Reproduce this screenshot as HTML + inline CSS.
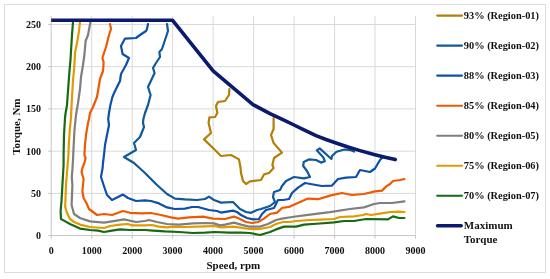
<!DOCTYPE html>
<html><head><meta charset="utf-8"><title>Efficiency map</title>
<style>html,body{margin:0;padding:0;background:#fff}svg{display:block}text{font-family:"Liberation Serif",serif;font-weight:bold;fill:#111}</style></head><body>
<svg width="550" height="279" viewBox="0 0 550 279">
<rect x="0" y="0" width="550" height="279" fill="#fff"/>
<rect x="4.5" y="4.5" width="541" height="268" fill="none" stroke="#dcdcdc" stroke-width="1"/>
<g stroke="#d9d9d9" stroke-width="1" fill="none"><line x1="91.7" y1="16.1" x2="91.7" y2="235.6"/><line x1="132.2" y1="16.1" x2="132.2" y2="235.6"/><line x1="172.6" y1="16.1" x2="172.6" y2="235.6"/><line x1="213.1" y1="16.1" x2="213.1" y2="235.6"/><line x1="253.6" y1="16.1" x2="253.6" y2="235.6"/><line x1="294.1" y1="16.1" x2="294.1" y2="235.6"/><line x1="334.6" y1="16.1" x2="334.6" y2="235.6"/><line x1="375.0" y1="16.1" x2="375.0" y2="235.6"/><line x1="415.5" y1="16.1" x2="415.5" y2="235.6"/><line x1="51.2" y1="193.4" x2="415.5" y2="193.4"/><line x1="51.2" y1="151.2" x2="415.5" y2="151.2"/><line x1="51.2" y1="108.9" x2="415.5" y2="108.9"/><line x1="51.2" y1="66.7" x2="415.5" y2="66.7"/><line x1="51.2" y1="24.5" x2="415.5" y2="24.5"/></g>
<g stroke="#c4c4c4" stroke-width="1" fill="none"><line x1="51.2" y1="16.1" x2="51.2" y2="238.6"/><line x1="48.2" y1="235.6" x2="415.5" y2="235.6"/><line x1="91.7" y1="235.6" x2="91.7" y2="238.6"/><line x1="132.2" y1="235.6" x2="132.2" y2="238.6"/><line x1="172.6" y1="235.6" x2="172.6" y2="238.6"/><line x1="213.1" y1="235.6" x2="213.1" y2="238.6"/><line x1="253.6" y1="235.6" x2="253.6" y2="238.6"/><line x1="294.1" y1="235.6" x2="294.1" y2="238.6"/><line x1="334.6" y1="235.6" x2="334.6" y2="238.6"/><line x1="375.0" y1="235.6" x2="375.0" y2="238.6"/><line x1="415.5" y1="235.6" x2="415.5" y2="238.6"/><line x1="48.2" y1="193.4" x2="51.2" y2="193.4"/><line x1="48.2" y1="151.2" x2="51.2" y2="151.2"/><line x1="48.2" y1="108.9" x2="51.2" y2="108.9"/><line x1="48.2" y1="66.7" x2="51.2" y2="66.7"/><line x1="48.2" y1="24.5" x2="51.2" y2="24.5"/></g>
<g font-size="10"><text x="51.2" y="253.7" text-anchor="middle">0</text><text x="91.7" y="253.7" text-anchor="middle">1000</text><text x="132.2" y="253.7" text-anchor="middle">2000</text><text x="172.6" y="253.7" text-anchor="middle">3000</text><text x="213.1" y="253.7" text-anchor="middle">4000</text><text x="253.6" y="253.7" text-anchor="middle">5000</text><text x="294.1" y="253.7" text-anchor="middle">6000</text><text x="334.6" y="253.7" text-anchor="middle">7000</text><text x="375.0" y="253.7" text-anchor="middle">8000</text><text x="415.5" y="253.7" text-anchor="middle">9000</text><text x="41" y="239.0" text-anchor="end">0</text><text x="41" y="196.8" text-anchor="end">50</text><text x="41" y="154.6" text-anchor="end">100</text><text x="41" y="112.3" text-anchor="end">150</text><text x="41" y="70.1" text-anchor="end">200</text><text x="41" y="27.9" text-anchor="end">250</text></g>
<text x="233.4" y="269" font-size="11" text-anchor="middle">Speed, rpm</text>
<text transform="translate(19.6,126.6) rotate(-90)" font-size="11" text-anchor="middle">Torque, Nm</text>
<polyline points="73.0,22.0 72.0,35.0 70.4,61.0 70.0,65.0 69.0,77.0 68.0,91.0 67.0,105.0 65.6,113.0 65.0,118.0 64.0,135.0 63.6,155.0 63.6,165.0 62.4,185.0 61.6,200.0 60.6,211.0 61.0,219.0 64.0,220.6 70.0,224.0 80.0,228.6 90.0,230.0 98.0,230.6 104.0,232.0 112.0,230.6 120.0,229.4 130.0,230.0 145.0,230.0 153.0,230.6 165.0,231.4 179.0,232.0 193.0,233.0 205.0,232.6 215.0,232.0 229.0,232.6 241.0,232.6 250.0,233.0 260.0,235.0 270.0,232.0 276.0,229.4 284.0,226.6 296.0,226.6 304.0,224.6 320.0,223.5 334.0,222.4 344.0,221.0 354.0,221.0 366.0,219.0 388.0,219.4 393.0,216.4 399.0,218.0 404.4,218.0" fill="none" stroke="#156B14" stroke-width="2.2" stroke-linejoin="round" stroke-linecap="round"/>
<polyline points="80.0,22.0 79.0,31.0 77.0,43.0 75.0,53.0 74.4,65.0 73.0,81.0 72.0,97.0 71.4,109.0 71.0,118.0 70.0,127.0 69.0,141.0 68.4,155.0 67.6,165.0 66.0,185.0 65.4,201.0 65.2,207.0 67.0,213.0 70.0,219.0 74.0,222.0 80.0,224.6 90.0,227.0 104.0,228.0 110.0,226.0 120.0,224.6 128.0,224.0 132.0,225.4 145.0,225.4 152.0,225.0 159.0,226.6 167.0,227.4 173.0,226.6 185.0,227.0 205.0,226.4 214.0,226.0 221.0,227.4 233.0,226.6 239.0,227.4 249.0,229.0 255.0,229.2 260.0,229.0 270.0,227.0 276.0,224.0 283.0,222.0 290.0,222.0 296.0,221.0 310.0,220.0 320.0,219.6 334.0,219.0 340.0,217.0 354.0,216.4 363.0,215.0 366.0,214.0 371.0,215.0 380.0,213.6 390.0,212.0 398.0,211.6 404.4,212.0" fill="none" stroke="#E29A00" stroke-width="2.2" stroke-linejoin="round" stroke-linecap="round"/>
<polyline points="90.4,22.0 88.0,35.0 85.6,41.0 84.4,55.0 83.0,65.0 81.0,77.0 80.0,89.0 78.0,103.0 76.0,115.0 74.4,131.0 73.6,147.0 73.0,160.0 72.4,170.0 71.8,177.0 72.4,185.0 72.0,195.0 71.6,205.0 74.0,214.0 80.0,218.0 90.0,221.4 104.0,222.6 112.0,221.4 124.0,219.4 136.0,222.0 145.0,221.0 149.0,220.0 157.0,222.0 167.0,224.0 179.0,224.6 193.0,223.4 205.0,223.0 214.0,223.4 220.0,225.4 225.0,224.6 234.0,222.6 241.0,224.6 249.0,226.6 260.0,226.6 268.0,224.0 276.0,220.0 282.0,218.6 292.0,217.0 310.0,214.6 330.0,212.2 350.0,209.0 364.0,207.4 374.0,204.0 380.0,203.0 392.0,203.0 404.4,201.4" fill="none" stroke="#7F7F7F" stroke-width="2.2" stroke-linejoin="round" stroke-linecap="round"/>
<polyline points="110.0,24.0 111.0,29.0 109.0,35.0 106.0,47.0 104.0,53.0 102.4,58.0 103.6,62.0 103.4,66.0 103.0,71.0 100.0,79.0 98.0,91.0 97.0,97.0 93.0,107.0 90.0,113.0 89.0,119.0 88.0,123.0 86.0,135.0 85.0,145.0 84.4,155.0 85.6,158.0 84.4,163.0 82.4,168.0 81.6,172.0 83.6,179.0 82.4,191.0 83.6,198.0 86.4,203.0 89.0,209.0 97.0,215.0 104.0,214.0 112.0,215.0 123.0,211.0 130.0,212.8 142.0,213.4 151.0,213.0 161.0,215.0 171.0,217.4 178.0,218.6 189.0,217.4 203.0,216.6 213.0,218.6 225.0,219.0 234.0,216.6 239.0,218.6 246.0,222.0 252.0,223.0 258.0,222.0 264.0,218.6 270.0,214.0 277.0,212.6 282.0,208.0 290.0,206.6 300.0,202.0 308.0,198.6 318.0,199.2 330.0,195.6 342.0,193.0 352.0,195.0 364.0,194.0 375.0,191.4 382.0,190.6 386.0,186.6 390.0,184.0 393.0,181.0 400.0,180.0 404.4,179.0" fill="none" stroke="#EF5A00" stroke-width="2.2" stroke-linejoin="round" stroke-linecap="round"/>
<polyline points="148.0,24.0 147.0,29.0 146.0,31.0 140.0,35.0 136.0,38.0 125.0,38.6 121.0,46.0 122.6,54.0 129.0,58.0 126.0,65.0 121.0,74.0 120.0,81.0 115.0,91.0 112.4,97.0 110.4,105.0 109.0,113.0 108.2,119.0 109.0,125.0 107.0,135.0 105.0,145.0 104.0,155.0 103.0,163.0 102.6,168.0 101.0,177.0 103.6,185.0 107.0,195.0 112.0,200.0 123.0,194.6 128.0,198.0 136.0,201.0 145.0,200.4 151.0,201.0 159.0,203.4 167.0,207.4 175.0,209.0 185.0,208.6 192.0,207.0 198.0,207.0 209.0,210.0 217.0,211.0 221.0,212.6 233.0,210.6 237.0,212.0 241.0,215.0 247.0,218.0 253.0,219.4 259.0,219.0 262.0,214.0 266.0,210.0 274.0,208.0 277.0,202.0 278.0,200.0 283.0,200.0 289.0,199.0 292.0,193.0 298.0,187.6 305.0,183.0 316.0,185.0 322.0,186.0 332.0,185.6 338.0,179.0 346.0,177.6 356.0,177.0 360.0,170.0 370.0,172.0 375.0,168.5 380.0,160.0 382.0,158.0" fill="none" stroke="#0C50AA" stroke-width="2.2" stroke-linejoin="round" stroke-linecap="round"/>
<polyline points="167.0,24.0 168.0,31.0 166.0,37.0 164.0,43.0 162.0,49.0 159.4,52.0 160.0,57.0 156.0,63.0 153.0,68.0 154.6,73.0 148.0,87.0 150.6,95.0 148.0,105.0 145.0,113.0 143.4,119.0 143.0,123.0 144.0,127.0 140.0,137.0 134.0,143.0 136.0,150.0 124.0,157.0 134.0,163.0 145.0,173.0 157.0,185.0 167.0,194.0 175.0,198.6 185.0,199.4 197.0,200.0 205.0,199.0 209.0,196.6 214.0,200.0 221.0,202.6 233.0,202.0 237.0,206.0 240.0,209.0 246.0,212.0 251.0,212.8 257.0,210.0 261.0,209.0 270.0,206.0 275.0,202.0 273.0,197.0 274.0,192.0 280.0,190.0 282.0,186.0 286.0,181.0 294.0,177.0 304.0,178.4 310.0,177.0 307.0,171.0 303.2,166.0 303.7,162.0 308.8,159.4 316.0,160.0 321.0,162.6 324.8,161.2 323.4,157.5 316.8,150.3 319.7,148.4 331.4,159.0 332.0,156.0 336.5,151.7 344.5,149.5 351.0,150.2 354.0,151.6" fill="none" stroke="#0F5A9A" stroke-width="2.2" stroke-linejoin="round" stroke-linecap="round"/>
<polyline points="229.4,89.0 229.0,95.0 225.0,101.0 218.0,102.0 216.0,106.0 217.4,113.0 215.0,117.0 209.4,117.4 208.6,123.0 211.0,133.0 204.0,139.4 214.0,149.0 221.0,156.0 231.0,155.0 239.0,159.4 240.6,168.0 241.0,173.0 243.0,181.0 246.0,184.0 250.0,181.4 261.0,180.0 264.0,174.4 269.0,173.0 273.6,168.0 272.4,165.0 274.0,158.0 282.0,152.6 273.6,143.0 271.0,135.0 273.6,129.0 273.6,118.0" fill="none" stroke="#B47F06" stroke-width="2.2" stroke-linejoin="round" stroke-linecap="round"/>
<polyline points="51.2,20.3 172.6,20.3 213.1,70.9 253.0,104.6 270.0,113.6 285.0,120.6 294.0,125.0 305.0,130.3 316.0,135.6 326.0,139.5 336.0,143.0 348.0,147.0 360.0,150.6 374.0,154.6 385.0,157.3 395.3,159.6" fill="none" stroke="#0B1A6B" stroke-width="3.6" stroke-linejoin="round" stroke-linecap="butt"/><circle cx="395.3" cy="159.6" r="1.8" fill="#0B1A6B"/>
<line x1="437.2" y1="15.6" x2="462" y2="15.6" stroke="#B47F06" stroke-width="2.1" stroke-linecap="round"/>
<text x="463.8" y="19.3" font-size="11" textLength="75.2" lengthAdjust="spacingAndGlyphs">93% (Region-01)</text>
<line x1="437.2" y1="45.6" x2="462" y2="45.6" stroke="#0F5A9A" stroke-width="2.1" stroke-linecap="round"/>
<text x="463.8" y="49.3" font-size="11" textLength="75.2" lengthAdjust="spacingAndGlyphs">90% (Region-02)</text>
<line x1="437.2" y1="75.6" x2="462" y2="75.6" stroke="#0C50AA" stroke-width="2.1" stroke-linecap="round"/>
<text x="463.8" y="79.3" font-size="11" textLength="75.2" lengthAdjust="spacingAndGlyphs">88% (Region-03)</text>
<line x1="437.2" y1="105.7" x2="462" y2="105.7" stroke="#EF5A00" stroke-width="2.1" stroke-linecap="round"/>
<text x="463.8" y="109.4" font-size="11" textLength="75.2" lengthAdjust="spacingAndGlyphs">85% (Region-04)</text>
<line x1="437.2" y1="135.7" x2="462" y2="135.7" stroke="#7F7F7F" stroke-width="2.1" stroke-linecap="round"/>
<text x="463.8" y="139.4" font-size="11" textLength="75.2" lengthAdjust="spacingAndGlyphs">80% (Region-05)</text>
<line x1="437.2" y1="165.7" x2="462" y2="165.7" stroke="#E29A00" stroke-width="2.1" stroke-linecap="round"/>
<text x="463.8" y="169.4" font-size="11" textLength="75.2" lengthAdjust="spacingAndGlyphs">75% (Region-06)</text>
<line x1="437.2" y1="195.7" x2="462" y2="195.7" stroke="#156B14" stroke-width="2.1" stroke-linecap="round"/>
<text x="463.8" y="199.4" font-size="11" textLength="75.2" lengthAdjust="spacingAndGlyphs">70% (Region-07)</text>
<line x1="437.6" y1="225.8" x2="461.2" y2="225.8" stroke="#0B1A6B" stroke-width="3.6" stroke-linecap="round"/>
<text x="463.8" y="229.2" font-size="11">Maximum</text>
<text x="463.8" y="243.4" font-size="11">Torque</text>
</svg></body></html>
